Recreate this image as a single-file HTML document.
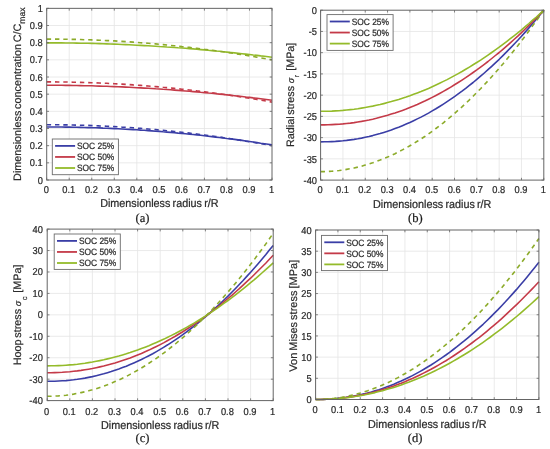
<!DOCTYPE html>
<html><head><meta charset="utf-8"><title>Figure</title>
<style>
html,body{margin:0;padding:0;background:#fff;}
svg{display:block;font-family:"Liberation Sans",sans-serif;text-rendering:geometricPrecision;}
</style></head><body>
<svg width="550" height="449" viewBox="0 0 550 449">
<rect width="550" height="449" fill="#ffffff"/>
<g><line x1="69.23" y1="8.35" x2="69.23" y2="180.00" stroke="#e5e5e5" stroke-width="0.8"/>
<line x1="91.76" y1="8.35" x2="91.76" y2="180.00" stroke="#e5e5e5" stroke-width="0.8"/>
<line x1="114.29" y1="8.35" x2="114.29" y2="180.00" stroke="#e5e5e5" stroke-width="0.8"/>
<line x1="136.82" y1="8.35" x2="136.82" y2="180.00" stroke="#e5e5e5" stroke-width="0.8"/>
<line x1="159.35" y1="8.35" x2="159.35" y2="180.00" stroke="#e5e5e5" stroke-width="0.8"/>
<line x1="181.88" y1="8.35" x2="181.88" y2="180.00" stroke="#e5e5e5" stroke-width="0.8"/>
<line x1="204.41" y1="8.35" x2="204.41" y2="180.00" stroke="#e5e5e5" stroke-width="0.8"/>
<line x1="226.94" y1="8.35" x2="226.94" y2="180.00" stroke="#e5e5e5" stroke-width="0.8"/>
<line x1="249.47" y1="8.35" x2="249.47" y2="180.00" stroke="#e5e5e5" stroke-width="0.8"/>
<line x1="46.70" y1="162.84" x2="272.00" y2="162.84" stroke="#e5e5e5" stroke-width="0.8"/>
<line x1="46.70" y1="145.67" x2="272.00" y2="145.67" stroke="#e5e5e5" stroke-width="0.8"/>
<line x1="46.70" y1="128.50" x2="272.00" y2="128.50" stroke="#e5e5e5" stroke-width="0.8"/>
<line x1="46.70" y1="111.34" x2="272.00" y2="111.34" stroke="#e5e5e5" stroke-width="0.8"/>
<line x1="46.70" y1="94.17" x2="272.00" y2="94.17" stroke="#e5e5e5" stroke-width="0.8"/>
<line x1="46.70" y1="77.01" x2="272.00" y2="77.01" stroke="#e5e5e5" stroke-width="0.8"/>
<line x1="46.70" y1="59.84" x2="272.00" y2="59.84" stroke="#e5e5e5" stroke-width="0.8"/>
<line x1="46.70" y1="42.68" x2="272.00" y2="42.68" stroke="#e5e5e5" stroke-width="0.8"/>
<line x1="46.70" y1="25.51" x2="272.00" y2="25.51" stroke="#e5e5e5" stroke-width="0.8"/>
<polyline points="46.7,127.0 50.5,127.0 54.2,127.0 58.0,127.0 61.7,127.0 65.5,127.1 69.2,127.1 73.0,127.2 76.7,127.3 80.5,127.4 84.2,127.5 88.0,127.6 91.8,127.7 95.5,127.8 99.3,127.9 103.0,128.1 106.8,128.2 110.5,128.4 114.3,128.6 118.0,128.8 121.8,129.0 125.6,129.2 129.3,129.4 133.1,129.6 136.8,129.8 140.6,130.1 144.3,130.3 148.1,130.6 151.8,130.9 155.6,131.2 159.4,131.4 163.1,131.8 166.9,132.1 170.6,132.4 174.4,132.7 178.1,133.1 181.9,133.4 185.6,133.8 189.4,134.2 193.1,134.5 196.9,134.9 200.7,135.3 204.4,135.8 208.2,136.2 211.9,136.6 215.7,137.1 219.4,137.5 223.2,138.0 226.9,138.5 230.7,138.9 234.5,139.4 238.2,139.9 242.0,140.4 245.7,141.0 249.5,141.5 253.2,142.0 257.0,142.6 260.7,143.2 264.5,143.7 268.2,144.3 272.0,144.9" fill="none" stroke="#3a3ea6" stroke-width="1.6" stroke-linejoin="round"/>
<polyline points="46.7,124.7 50.5,124.7 54.2,124.8 58.0,124.8 61.7,124.8 65.5,124.9 69.2,124.9 73.0,125.0 76.7,125.1 80.5,125.2 84.2,125.3 88.0,125.4 91.8,125.6 95.5,125.7 99.3,125.9 103.0,126.0 106.8,126.2 110.5,126.4 114.3,126.6 118.0,126.8 121.8,127.1 125.6,127.3 129.3,127.5 133.1,127.8 136.8,128.1 140.6,128.4 144.3,128.7 148.1,129.0 151.8,129.3 155.6,129.6 159.4,130.0 163.1,130.3 166.9,130.7 170.6,131.1 174.4,131.5 178.1,131.9 181.9,132.3 185.6,132.7 189.4,133.1 193.1,133.6 196.9,134.0 200.7,134.5 204.4,135.0 208.2,135.5 211.9,136.0 215.7,136.5 219.4,137.0 223.2,137.6 226.9,138.1 230.7,138.7 234.5,139.3 238.2,139.9 242.0,140.5 245.7,141.1 249.5,141.7 253.2,142.3 257.0,143.0 260.7,143.6 264.5,144.3 268.2,145.0 272.0,145.7" fill="none" stroke="#3a3ea6" stroke-width="1.6" stroke-dasharray="4.4 3.9" stroke-linejoin="round"/>
<polyline points="46.7,85.2 50.5,85.3 54.2,85.3 58.0,85.3 61.7,85.3 65.5,85.4 69.2,85.4 73.0,85.5 76.7,85.5 80.5,85.6 84.2,85.7 88.0,85.8 91.8,85.8 95.5,86.0 99.3,86.1 103.0,86.2 106.8,86.3 110.5,86.5 114.3,86.6 118.0,86.8 121.8,86.9 125.6,87.1 129.3,87.3 133.1,87.5 136.8,87.7 140.6,87.9 144.3,88.1 148.1,88.3 151.8,88.5 155.6,88.8 159.4,89.0 163.1,89.3 166.9,89.5 170.6,89.8 174.4,90.1 178.1,90.4 181.9,90.7 185.6,91.0 189.4,91.3 193.1,91.6 196.9,91.9 200.7,92.3 204.4,92.6 208.2,93.0 211.9,93.3 215.7,93.7 219.4,94.1 223.2,94.5 226.9,94.9 230.7,95.3 234.5,95.7 238.2,96.1 242.0,96.5 245.7,97.0 249.5,97.4 253.2,97.9 257.0,98.3 260.7,98.8 264.5,99.3 268.2,99.8 272.0,100.3" fill="none" stroke="#c43a48" stroke-width="1.6" stroke-linejoin="round"/>
<polyline points="46.7,81.9 50.5,81.9 54.2,81.9 58.0,82.0 61.7,82.0 65.5,82.0 69.2,82.1 73.0,82.2 76.7,82.3 80.5,82.4 84.2,82.5 88.0,82.6 91.8,82.7 95.5,82.8 99.3,83.0 103.0,83.2 106.8,83.3 110.5,83.5 114.3,83.7 118.0,83.9 121.8,84.1 125.6,84.4 129.3,84.6 133.1,84.9 136.8,85.1 140.6,85.4 144.3,85.7 148.1,86.0 151.8,86.3 155.6,86.6 159.4,86.9 163.1,87.3 166.9,87.6 170.6,88.0 174.4,88.4 178.1,88.8 181.9,89.2 185.6,89.6 189.4,90.0 193.1,90.4 196.9,90.9 200.7,91.3 204.4,91.8 208.2,92.3 211.9,92.7 215.7,93.2 219.4,93.8 223.2,94.3 226.9,94.8 230.7,95.4 234.5,95.9 238.2,96.5 242.0,97.1 245.7,97.6 249.5,98.2 253.2,98.8 257.0,99.5 260.7,100.1 264.5,100.7 268.2,101.4 272.0,102.1" fill="none" stroke="#c43a48" stroke-width="1.6" stroke-dasharray="4.4 3.9" stroke-linejoin="round"/>
<polyline points="46.7,42.9 50.5,42.9 54.2,42.9 58.0,42.9 61.7,42.9 65.5,43.0 69.2,43.0 73.0,43.0 76.7,43.1 80.5,43.2 84.2,43.3 88.0,43.3 91.8,43.4 95.5,43.5 99.3,43.6 103.0,43.8 106.8,43.9 110.5,44.0 114.3,44.1 118.0,44.3 121.8,44.5 125.6,44.6 129.3,44.8 133.1,45.0 136.8,45.2 140.6,45.4 144.3,45.6 148.1,45.8 151.8,46.0 155.6,46.2 159.4,46.5 163.1,46.7 166.9,47.0 170.6,47.2 174.4,47.5 178.1,47.8 181.9,48.0 185.6,48.3 189.4,48.6 193.1,48.9 196.9,49.3 200.7,49.6 204.4,49.9 208.2,50.3 211.9,50.6 215.7,51.0 219.4,51.3 223.2,51.7 226.9,52.1 230.7,52.5 234.5,52.9 238.2,53.3 242.0,53.7 245.7,54.1 249.5,54.5 253.2,55.0 257.0,55.4 260.7,55.9 264.5,56.3 268.2,56.8 272.0,57.3" fill="none" stroke="#94bb2a" stroke-width="1.6" stroke-linejoin="round"/>
<polyline points="46.7,39.1 50.5,39.1 54.2,39.1 58.0,39.1 61.7,39.2 65.5,39.2 69.2,39.3 73.0,39.4 76.7,39.4 80.5,39.5 84.2,39.7 88.0,39.8 91.8,39.9 95.5,40.1 99.3,40.2 103.0,40.4 106.8,40.6 110.5,40.7 114.3,40.9 118.0,41.2 121.8,41.4 125.6,41.6 129.3,41.9 133.1,42.1 136.8,42.4 140.6,42.7 144.3,43.0 148.1,43.3 151.8,43.6 155.6,43.9 159.4,44.3 163.1,44.6 166.9,45.0 170.6,45.4 174.4,45.7 178.1,46.1 181.9,46.6 185.6,47.0 189.4,47.4 193.1,47.9 196.9,48.3 200.7,48.8 204.4,49.3 208.2,49.7 211.9,50.2 215.7,50.8 219.4,51.3 223.2,51.8 226.9,52.4 230.7,52.9 234.5,53.5 238.2,54.1 242.0,54.7 245.7,55.3 249.5,55.9 253.2,56.5 257.0,57.2 260.7,57.8 264.5,58.5 268.2,59.2 272.0,59.8" fill="none" stroke="#8cab2a" stroke-width="1.6" stroke-dasharray="4.4 3.9" stroke-linejoin="round"/>
<line x1="46.70" y1="180.00" x2="46.70" y2="177.70" stroke="#646464" stroke-width="0.8"/>
<line x1="46.70" y1="8.35" x2="46.70" y2="10.65" stroke="#646464" stroke-width="0.8"/>
<text transform="translate(46.30,193.10) scale(1,1.08)" font-size="9.3" text-anchor="middle" fill="#2b2b2b" stroke="#2b2b2b" stroke-width="0.22">0</text>
<line x1="69.23" y1="180.00" x2="69.23" y2="177.70" stroke="#646464" stroke-width="0.8"/>
<line x1="69.23" y1="8.35" x2="69.23" y2="10.65" stroke="#646464" stroke-width="0.8"/>
<text transform="translate(68.83,193.10) scale(1,1.08)" font-size="9.3" text-anchor="middle" fill="#2b2b2b" stroke="#2b2b2b" stroke-width="0.22">0.1</text>
<line x1="91.76" y1="180.00" x2="91.76" y2="177.70" stroke="#646464" stroke-width="0.8"/>
<line x1="91.76" y1="8.35" x2="91.76" y2="10.65" stroke="#646464" stroke-width="0.8"/>
<text transform="translate(91.36,193.10) scale(1,1.08)" font-size="9.3" text-anchor="middle" fill="#2b2b2b" stroke="#2b2b2b" stroke-width="0.22">0.2</text>
<line x1="114.29" y1="180.00" x2="114.29" y2="177.70" stroke="#646464" stroke-width="0.8"/>
<line x1="114.29" y1="8.35" x2="114.29" y2="10.65" stroke="#646464" stroke-width="0.8"/>
<text transform="translate(113.89,193.10) scale(1,1.08)" font-size="9.3" text-anchor="middle" fill="#2b2b2b" stroke="#2b2b2b" stroke-width="0.22">0.3</text>
<line x1="136.82" y1="180.00" x2="136.82" y2="177.70" stroke="#646464" stroke-width="0.8"/>
<line x1="136.82" y1="8.35" x2="136.82" y2="10.65" stroke="#646464" stroke-width="0.8"/>
<text transform="translate(136.42,193.10) scale(1,1.08)" font-size="9.3" text-anchor="middle" fill="#2b2b2b" stroke="#2b2b2b" stroke-width="0.22">0.4</text>
<line x1="159.35" y1="180.00" x2="159.35" y2="177.70" stroke="#646464" stroke-width="0.8"/>
<line x1="159.35" y1="8.35" x2="159.35" y2="10.65" stroke="#646464" stroke-width="0.8"/>
<text transform="translate(158.95,193.10) scale(1,1.08)" font-size="9.3" text-anchor="middle" fill="#2b2b2b" stroke="#2b2b2b" stroke-width="0.22">0.5</text>
<line x1="181.88" y1="180.00" x2="181.88" y2="177.70" stroke="#646464" stroke-width="0.8"/>
<line x1="181.88" y1="8.35" x2="181.88" y2="10.65" stroke="#646464" stroke-width="0.8"/>
<text transform="translate(181.48,193.10) scale(1,1.08)" font-size="9.3" text-anchor="middle" fill="#2b2b2b" stroke="#2b2b2b" stroke-width="0.22">0.6</text>
<line x1="204.41" y1="180.00" x2="204.41" y2="177.70" stroke="#646464" stroke-width="0.8"/>
<line x1="204.41" y1="8.35" x2="204.41" y2="10.65" stroke="#646464" stroke-width="0.8"/>
<text transform="translate(204.01,193.10) scale(1,1.08)" font-size="9.3" text-anchor="middle" fill="#2b2b2b" stroke="#2b2b2b" stroke-width="0.22">0.7</text>
<line x1="226.94" y1="180.00" x2="226.94" y2="177.70" stroke="#646464" stroke-width="0.8"/>
<line x1="226.94" y1="8.35" x2="226.94" y2="10.65" stroke="#646464" stroke-width="0.8"/>
<text transform="translate(226.54,193.10) scale(1,1.08)" font-size="9.3" text-anchor="middle" fill="#2b2b2b" stroke="#2b2b2b" stroke-width="0.22">0.8</text>
<line x1="249.47" y1="180.00" x2="249.47" y2="177.70" stroke="#646464" stroke-width="0.8"/>
<line x1="249.47" y1="8.35" x2="249.47" y2="10.65" stroke="#646464" stroke-width="0.8"/>
<text transform="translate(249.07,193.10) scale(1,1.08)" font-size="9.3" text-anchor="middle" fill="#2b2b2b" stroke="#2b2b2b" stroke-width="0.22">0.9</text>
<line x1="272.00" y1="180.00" x2="272.00" y2="177.70" stroke="#646464" stroke-width="0.8"/>
<line x1="272.00" y1="8.35" x2="272.00" y2="10.65" stroke="#646464" stroke-width="0.8"/>
<text transform="translate(271.60,193.10) scale(1,1.08)" font-size="9.3" text-anchor="middle" fill="#2b2b2b" stroke="#2b2b2b" stroke-width="0.22">1</text>
<line x1="46.70" y1="180.00" x2="49.00" y2="180.00" stroke="#646464" stroke-width="0.8"/>
<line x1="272.00" y1="180.00" x2="269.70" y2="180.00" stroke="#646464" stroke-width="0.8"/>
<text transform="translate(42.80,183.55) scale(1,1.08)" font-size="9.3" text-anchor="end" fill="#2b2b2b" stroke="#2b2b2b" stroke-width="0.22">0</text>
<line x1="46.70" y1="162.84" x2="49.00" y2="162.84" stroke="#646464" stroke-width="0.8"/>
<line x1="272.00" y1="162.84" x2="269.70" y2="162.84" stroke="#646464" stroke-width="0.8"/>
<text transform="translate(42.80,166.39) scale(1,1.08)" font-size="9.3" text-anchor="end" fill="#2b2b2b" stroke="#2b2b2b" stroke-width="0.22">0.1</text>
<line x1="46.70" y1="145.67" x2="49.00" y2="145.67" stroke="#646464" stroke-width="0.8"/>
<line x1="272.00" y1="145.67" x2="269.70" y2="145.67" stroke="#646464" stroke-width="0.8"/>
<text transform="translate(42.80,149.22) scale(1,1.08)" font-size="9.3" text-anchor="end" fill="#2b2b2b" stroke="#2b2b2b" stroke-width="0.22">0.2</text>
<line x1="46.70" y1="128.50" x2="49.00" y2="128.50" stroke="#646464" stroke-width="0.8"/>
<line x1="272.00" y1="128.50" x2="269.70" y2="128.50" stroke="#646464" stroke-width="0.8"/>
<text transform="translate(42.80,132.06) scale(1,1.08)" font-size="9.3" text-anchor="end" fill="#2b2b2b" stroke="#2b2b2b" stroke-width="0.22">0.3</text>
<line x1="46.70" y1="111.34" x2="49.00" y2="111.34" stroke="#646464" stroke-width="0.8"/>
<line x1="272.00" y1="111.34" x2="269.70" y2="111.34" stroke="#646464" stroke-width="0.8"/>
<text transform="translate(42.80,114.89) scale(1,1.08)" font-size="9.3" text-anchor="end" fill="#2b2b2b" stroke="#2b2b2b" stroke-width="0.22">0.4</text>
<line x1="46.70" y1="94.17" x2="49.00" y2="94.17" stroke="#646464" stroke-width="0.8"/>
<line x1="272.00" y1="94.17" x2="269.70" y2="94.17" stroke="#646464" stroke-width="0.8"/>
<text transform="translate(42.80,97.72) scale(1,1.08)" font-size="9.3" text-anchor="end" fill="#2b2b2b" stroke="#2b2b2b" stroke-width="0.22">0.5</text>
<line x1="46.70" y1="77.01" x2="49.00" y2="77.01" stroke="#646464" stroke-width="0.8"/>
<line x1="272.00" y1="77.01" x2="269.70" y2="77.01" stroke="#646464" stroke-width="0.8"/>
<text transform="translate(42.80,80.56) scale(1,1.08)" font-size="9.3" text-anchor="end" fill="#2b2b2b" stroke="#2b2b2b" stroke-width="0.22">0.6</text>
<line x1="46.70" y1="59.84" x2="49.00" y2="59.84" stroke="#646464" stroke-width="0.8"/>
<line x1="272.00" y1="59.84" x2="269.70" y2="59.84" stroke="#646464" stroke-width="0.8"/>
<text transform="translate(42.80,63.39) scale(1,1.08)" font-size="9.3" text-anchor="end" fill="#2b2b2b" stroke="#2b2b2b" stroke-width="0.22">0.7</text>
<line x1="46.70" y1="42.68" x2="49.00" y2="42.68" stroke="#646464" stroke-width="0.8"/>
<line x1="272.00" y1="42.68" x2="269.70" y2="42.68" stroke="#646464" stroke-width="0.8"/>
<text transform="translate(42.80,46.23) scale(1,1.08)" font-size="9.3" text-anchor="end" fill="#2b2b2b" stroke="#2b2b2b" stroke-width="0.22">0.8</text>
<line x1="46.70" y1="25.51" x2="49.00" y2="25.51" stroke="#646464" stroke-width="0.8"/>
<line x1="272.00" y1="25.51" x2="269.70" y2="25.51" stroke="#646464" stroke-width="0.8"/>
<text transform="translate(42.80,29.06) scale(1,1.08)" font-size="9.3" text-anchor="end" fill="#2b2b2b" stroke="#2b2b2b" stroke-width="0.22">0.9</text>
<line x1="46.70" y1="8.35" x2="49.00" y2="8.35" stroke="#646464" stroke-width="0.8"/>
<line x1="272.00" y1="8.35" x2="269.70" y2="8.35" stroke="#646464" stroke-width="0.8"/>
<text transform="translate(42.80,11.90) scale(1,1.08)" font-size="9.3" text-anchor="end" fill="#2b2b2b" stroke="#2b2b2b" stroke-width="0.22">1</text>
<rect x="46.70" y="8.35" width="225.30" height="171.65" fill="none" stroke="#646464" stroke-width="1"/>
<rect x="52.30" y="139.00" width="66.10" height="35.70" fill="#fff" stroke="#6c6c6c" stroke-width="0.9"/>
<line x1="55.10" y1="145.90" x2="75.10" y2="145.90" stroke="#3a3ea6" stroke-width="1.8"/>
<text transform="translate(77.00,149.10) scale(1,1.09)" font-size="8.4" text-anchor="start" fill="#2b2b2b" stroke="#2b2b2b" stroke-width="0.22">SOC 25%</text>
<line x1="55.10" y1="156.95" x2="75.10" y2="156.95" stroke="#c43a48" stroke-width="1.8"/>
<text transform="translate(77.00,160.15) scale(1,1.09)" font-size="8.4" text-anchor="start" fill="#2b2b2b" stroke="#2b2b2b" stroke-width="0.22">SOC 50%</text>
<line x1="55.10" y1="168.00" x2="75.10" y2="168.00" stroke="#94bb2a" stroke-width="1.8"/>
<text transform="translate(77.00,171.20) scale(1,1.09)" font-size="8.4" text-anchor="start" fill="#2b2b2b" stroke="#2b2b2b" stroke-width="0.22">SOC 75%</text>
<text transform="translate(159.35,207.40) scale(1,1.06)" font-size="10.8" text-anchor="middle" fill="#2b2b2b" stroke="#2b2b2b" stroke-width="0.22" word-spacing="-0.8">Dimensionless radius r/R</text>
<text transform="translate(20.90,94.17) rotate(-90)" font-size="10.8" word-spacing="-1.2" text-anchor="middle" fill="#2b2b2b" stroke="#2b2b2b" stroke-width="0.2">Dimensionless concentration C/C<tspan font-size="8.6" dy="3.9">max</tspan></text>
<text x="142.50" y="221.70" font-size="12.6" text-anchor="middle" fill="#1c1c1c" stroke="#1c1c1c" stroke-width="0.2" font-family="'Liberation Serif', serif">(a)</text></g>
<g><line x1="342.92" y1="10.20" x2="342.92" y2="180.10" stroke="#e5e5e5" stroke-width="0.8"/>
<line x1="365.24" y1="10.20" x2="365.24" y2="180.10" stroke="#e5e5e5" stroke-width="0.8"/>
<line x1="387.56" y1="10.20" x2="387.56" y2="180.10" stroke="#e5e5e5" stroke-width="0.8"/>
<line x1="409.88" y1="10.20" x2="409.88" y2="180.10" stroke="#e5e5e5" stroke-width="0.8"/>
<line x1="432.20" y1="10.20" x2="432.20" y2="180.10" stroke="#e5e5e5" stroke-width="0.8"/>
<line x1="454.52" y1="10.20" x2="454.52" y2="180.10" stroke="#e5e5e5" stroke-width="0.8"/>
<line x1="476.84" y1="10.20" x2="476.84" y2="180.10" stroke="#e5e5e5" stroke-width="0.8"/>
<line x1="499.16" y1="10.20" x2="499.16" y2="180.10" stroke="#e5e5e5" stroke-width="0.8"/>
<line x1="521.48" y1="10.20" x2="521.48" y2="180.10" stroke="#e5e5e5" stroke-width="0.8"/>
<line x1="320.60" y1="158.86" x2="543.80" y2="158.86" stroke="#e5e5e5" stroke-width="0.8"/>
<line x1="320.60" y1="137.62" x2="543.80" y2="137.62" stroke="#e5e5e5" stroke-width="0.8"/>
<line x1="320.60" y1="116.39" x2="543.80" y2="116.39" stroke="#e5e5e5" stroke-width="0.8"/>
<line x1="320.60" y1="95.15" x2="543.80" y2="95.15" stroke="#e5e5e5" stroke-width="0.8"/>
<line x1="320.60" y1="73.91" x2="543.80" y2="73.91" stroke="#e5e5e5" stroke-width="0.8"/>
<line x1="320.60" y1="52.67" x2="543.80" y2="52.67" stroke="#e5e5e5" stroke-width="0.8"/>
<line x1="320.60" y1="31.44" x2="543.80" y2="31.44" stroke="#e5e5e5" stroke-width="0.8"/>
<polyline points="320.6,141.9 324.3,141.8 328.0,141.8 331.8,141.6 335.5,141.4 339.2,141.1 342.9,140.8 346.6,140.4 350.4,139.9 354.1,139.4 357.8,138.8 361.5,138.1 365.2,137.3 369.0,136.5 372.7,135.6 376.4,134.6 380.1,133.6 383.8,132.4 387.6,131.2 391.3,130.0 395.0,128.6 398.7,127.2 402.4,125.7 406.2,124.1 409.9,122.5 413.6,120.7 417.3,118.9 421.0,117.1 424.8,115.1 428.5,113.1 432.2,110.9 435.9,108.8 439.6,106.5 443.4,104.1 447.1,101.7 450.8,99.2 454.5,96.6 458.2,93.9 462.0,91.2 465.7,88.4 469.4,85.4 473.1,82.5 476.8,79.4 480.6,76.2 484.3,73.0 488.0,69.7 491.7,66.3 495.4,62.8 499.2,59.3 502.9,55.6 506.6,51.9 510.3,48.1 514.0,44.2 517.8,40.3 521.5,36.2 525.2,32.1 528.9,27.9 532.6,23.6 536.4,19.2 540.1,14.7 543.8,10.2" fill="none" stroke="#3a3ea6" stroke-width="1.6" stroke-linejoin="round"/>
<polyline points="320.6,124.9 324.3,124.9 328.0,124.8 331.8,124.6 335.5,124.4 339.2,124.2 342.9,123.9 346.6,123.5 350.4,123.1 354.1,122.6 357.8,122.0 361.5,121.4 365.2,120.7 369.0,120.0 372.7,119.2 376.4,118.3 380.1,117.3 383.8,116.3 387.6,115.3 391.3,114.1 395.0,113.0 398.7,111.7 402.4,110.4 406.2,109.0 409.9,107.5 413.6,106.0 417.3,104.4 421.0,102.7 424.8,101.0 428.5,99.2 432.2,97.4 435.9,95.5 439.6,93.5 443.4,91.4 447.1,89.3 450.8,87.1 454.5,84.8 458.2,82.5 462.0,80.1 465.7,77.7 469.4,75.1 473.1,72.5 476.8,69.9 480.6,67.1 484.3,64.3 488.0,61.5 491.7,58.5 495.4,55.5 499.2,52.5 502.9,49.3 506.6,46.1 510.3,42.8 514.0,39.5 517.8,36.1 521.5,32.6 525.2,29.0 528.9,25.4 532.6,21.7 536.4,17.9 540.1,14.1 543.8,10.2" fill="none" stroke="#c43a48" stroke-width="1.6" stroke-linejoin="round"/>
<polyline points="320.6,111.3 324.3,111.3 328.0,111.2 331.8,111.1 335.5,110.9 339.2,110.7 342.9,110.4 346.6,110.0 350.4,109.6 354.1,109.2 357.8,108.7 361.5,108.1 365.2,107.5 369.0,106.8 372.7,106.1 376.4,105.3 380.1,104.5 383.8,103.6 387.6,102.6 391.3,101.6 395.0,100.5 398.7,99.4 402.4,98.2 406.2,97.0 409.9,95.7 413.6,94.3 417.3,92.9 421.0,91.5 424.8,89.9 428.5,88.4 432.2,86.7 435.9,85.0 439.6,83.2 443.4,81.4 447.1,79.6 450.8,77.6 454.5,75.6 458.2,73.6 462.0,71.5 465.7,69.3 469.4,67.1 473.1,64.8 476.8,62.5 480.6,60.1 484.3,57.6 488.0,55.1 491.7,52.5 495.4,49.9 499.2,47.2 502.9,44.4 506.6,41.6 510.3,38.7 514.0,35.8 517.8,32.8 521.5,29.8 525.2,26.6 528.9,23.5 532.6,20.2 536.4,17.0 540.1,13.6 543.8,10.2" fill="none" stroke="#94bb2a" stroke-width="1.6" stroke-linejoin="round"/>
<polyline points="320.6,171.6 324.3,171.6 328.0,171.4 331.8,171.2 335.5,170.9 339.2,170.5 342.9,170.0 346.6,169.4 350.4,168.7 354.1,168.0 357.8,167.1 361.5,166.2 365.2,165.1 369.0,164.0 372.7,162.8 376.4,161.5 380.1,160.1 383.8,158.6 387.6,157.1 391.3,155.4 395.0,153.7 398.7,151.8 402.4,149.9 406.2,147.9 409.9,145.8 413.6,143.6 417.3,141.3 421.0,138.9 424.8,136.5 428.5,133.9 432.2,131.3 435.9,128.5 439.6,125.7 443.4,122.8 447.1,119.8 450.8,116.7 454.5,113.5 458.2,110.2 462.0,106.9 465.7,103.4 469.4,99.9 473.1,96.2 476.8,92.5 480.6,88.7 484.3,84.8 488.0,80.8 491.7,76.7 495.4,72.6 499.2,68.3 502.9,64.0 506.6,59.5 510.3,55.0 514.0,50.4 517.8,45.7 521.5,40.9 525.2,36.0 528.9,31.0 532.6,25.9 536.4,20.8 540.1,15.5 543.8,10.2" fill="none" stroke="#8cab2a" stroke-width="1.6" stroke-dasharray="4.4 3.9" stroke-linejoin="round"/>
<line x1="320.60" y1="180.10" x2="320.60" y2="177.80" stroke="#646464" stroke-width="0.8"/>
<line x1="320.60" y1="10.20" x2="320.60" y2="12.50" stroke="#646464" stroke-width="0.8"/>
<text transform="translate(320.20,193.20) scale(1,1.08)" font-size="9.3" text-anchor="middle" fill="#2b2b2b" stroke="#2b2b2b" stroke-width="0.22">0</text>
<line x1="342.92" y1="180.10" x2="342.92" y2="177.80" stroke="#646464" stroke-width="0.8"/>
<line x1="342.92" y1="10.20" x2="342.92" y2="12.50" stroke="#646464" stroke-width="0.8"/>
<text transform="translate(342.52,193.20) scale(1,1.08)" font-size="9.3" text-anchor="middle" fill="#2b2b2b" stroke="#2b2b2b" stroke-width="0.22">0.1</text>
<line x1="365.24" y1="180.10" x2="365.24" y2="177.80" stroke="#646464" stroke-width="0.8"/>
<line x1="365.24" y1="10.20" x2="365.24" y2="12.50" stroke="#646464" stroke-width="0.8"/>
<text transform="translate(364.84,193.20) scale(1,1.08)" font-size="9.3" text-anchor="middle" fill="#2b2b2b" stroke="#2b2b2b" stroke-width="0.22">0.2</text>
<line x1="387.56" y1="180.10" x2="387.56" y2="177.80" stroke="#646464" stroke-width="0.8"/>
<line x1="387.56" y1="10.20" x2="387.56" y2="12.50" stroke="#646464" stroke-width="0.8"/>
<text transform="translate(387.16,193.20) scale(1,1.08)" font-size="9.3" text-anchor="middle" fill="#2b2b2b" stroke="#2b2b2b" stroke-width="0.22">0.3</text>
<line x1="409.88" y1="180.10" x2="409.88" y2="177.80" stroke="#646464" stroke-width="0.8"/>
<line x1="409.88" y1="10.20" x2="409.88" y2="12.50" stroke="#646464" stroke-width="0.8"/>
<text transform="translate(409.48,193.20) scale(1,1.08)" font-size="9.3" text-anchor="middle" fill="#2b2b2b" stroke="#2b2b2b" stroke-width="0.22">0.4</text>
<line x1="432.20" y1="180.10" x2="432.20" y2="177.80" stroke="#646464" stroke-width="0.8"/>
<line x1="432.20" y1="10.20" x2="432.20" y2="12.50" stroke="#646464" stroke-width="0.8"/>
<text transform="translate(431.80,193.20) scale(1,1.08)" font-size="9.3" text-anchor="middle" fill="#2b2b2b" stroke="#2b2b2b" stroke-width="0.22">0.5</text>
<line x1="454.52" y1="180.10" x2="454.52" y2="177.80" stroke="#646464" stroke-width="0.8"/>
<line x1="454.52" y1="10.20" x2="454.52" y2="12.50" stroke="#646464" stroke-width="0.8"/>
<text transform="translate(454.12,193.20) scale(1,1.08)" font-size="9.3" text-anchor="middle" fill="#2b2b2b" stroke="#2b2b2b" stroke-width="0.22">0.6</text>
<line x1="476.84" y1="180.10" x2="476.84" y2="177.80" stroke="#646464" stroke-width="0.8"/>
<line x1="476.84" y1="10.20" x2="476.84" y2="12.50" stroke="#646464" stroke-width="0.8"/>
<text transform="translate(476.44,193.20) scale(1,1.08)" font-size="9.3" text-anchor="middle" fill="#2b2b2b" stroke="#2b2b2b" stroke-width="0.22">0.7</text>
<line x1="499.16" y1="180.10" x2="499.16" y2="177.80" stroke="#646464" stroke-width="0.8"/>
<line x1="499.16" y1="10.20" x2="499.16" y2="12.50" stroke="#646464" stroke-width="0.8"/>
<text transform="translate(498.76,193.20) scale(1,1.08)" font-size="9.3" text-anchor="middle" fill="#2b2b2b" stroke="#2b2b2b" stroke-width="0.22">0.8</text>
<line x1="521.48" y1="180.10" x2="521.48" y2="177.80" stroke="#646464" stroke-width="0.8"/>
<line x1="521.48" y1="10.20" x2="521.48" y2="12.50" stroke="#646464" stroke-width="0.8"/>
<text transform="translate(521.08,193.20) scale(1,1.08)" font-size="9.3" text-anchor="middle" fill="#2b2b2b" stroke="#2b2b2b" stroke-width="0.22">0.9</text>
<line x1="543.80" y1="180.10" x2="543.80" y2="177.80" stroke="#646464" stroke-width="0.8"/>
<line x1="543.80" y1="10.20" x2="543.80" y2="12.50" stroke="#646464" stroke-width="0.8"/>
<text transform="translate(543.40,193.20) scale(1,1.08)" font-size="9.3" text-anchor="middle" fill="#2b2b2b" stroke="#2b2b2b" stroke-width="0.22">1</text>
<line x1="320.60" y1="180.10" x2="322.90" y2="180.10" stroke="#646464" stroke-width="0.8"/>
<line x1="543.80" y1="180.10" x2="541.50" y2="180.10" stroke="#646464" stroke-width="0.8"/>
<text transform="translate(317.00,183.85) scale(1,1.08)" font-size="9.3" text-anchor="end" fill="#2b2b2b" stroke="#2b2b2b" stroke-width="0.22">-40</text>
<line x1="320.60" y1="158.86" x2="322.90" y2="158.86" stroke="#646464" stroke-width="0.8"/>
<line x1="543.80" y1="158.86" x2="541.50" y2="158.86" stroke="#646464" stroke-width="0.8"/>
<text transform="translate(317.00,162.61) scale(1,1.08)" font-size="9.3" text-anchor="end" fill="#2b2b2b" stroke="#2b2b2b" stroke-width="0.22">-35</text>
<line x1="320.60" y1="137.62" x2="322.90" y2="137.62" stroke="#646464" stroke-width="0.8"/>
<line x1="543.80" y1="137.62" x2="541.50" y2="137.62" stroke="#646464" stroke-width="0.8"/>
<text transform="translate(317.00,141.38) scale(1,1.08)" font-size="9.3" text-anchor="end" fill="#2b2b2b" stroke="#2b2b2b" stroke-width="0.22">-30</text>
<line x1="320.60" y1="116.39" x2="322.90" y2="116.39" stroke="#646464" stroke-width="0.8"/>
<line x1="543.80" y1="116.39" x2="541.50" y2="116.39" stroke="#646464" stroke-width="0.8"/>
<text transform="translate(317.00,120.14) scale(1,1.08)" font-size="9.3" text-anchor="end" fill="#2b2b2b" stroke="#2b2b2b" stroke-width="0.22">-25</text>
<line x1="320.60" y1="95.15" x2="322.90" y2="95.15" stroke="#646464" stroke-width="0.8"/>
<line x1="543.80" y1="95.15" x2="541.50" y2="95.15" stroke="#646464" stroke-width="0.8"/>
<text transform="translate(317.00,98.90) scale(1,1.08)" font-size="9.3" text-anchor="end" fill="#2b2b2b" stroke="#2b2b2b" stroke-width="0.22">-20</text>
<line x1="320.60" y1="73.91" x2="322.90" y2="73.91" stroke="#646464" stroke-width="0.8"/>
<line x1="543.80" y1="73.91" x2="541.50" y2="73.91" stroke="#646464" stroke-width="0.8"/>
<text transform="translate(317.00,77.66) scale(1,1.08)" font-size="9.3" text-anchor="end" fill="#2b2b2b" stroke="#2b2b2b" stroke-width="0.22">-15</text>
<line x1="320.60" y1="52.67" x2="322.90" y2="52.67" stroke="#646464" stroke-width="0.8"/>
<line x1="543.80" y1="52.67" x2="541.50" y2="52.67" stroke="#646464" stroke-width="0.8"/>
<text transform="translate(317.00,56.42) scale(1,1.08)" font-size="9.3" text-anchor="end" fill="#2b2b2b" stroke="#2b2b2b" stroke-width="0.22">-10</text>
<line x1="320.60" y1="31.44" x2="322.90" y2="31.44" stroke="#646464" stroke-width="0.8"/>
<line x1="543.80" y1="31.44" x2="541.50" y2="31.44" stroke="#646464" stroke-width="0.8"/>
<text transform="translate(317.00,35.19) scale(1,1.08)" font-size="9.3" text-anchor="end" fill="#2b2b2b" stroke="#2b2b2b" stroke-width="0.22">-5</text>
<line x1="320.60" y1="10.20" x2="322.90" y2="10.20" stroke="#646464" stroke-width="0.8"/>
<line x1="543.80" y1="10.20" x2="541.50" y2="10.20" stroke="#646464" stroke-width="0.8"/>
<text transform="translate(317.00,13.95) scale(1,1.08)" font-size="9.3" text-anchor="end" fill="#2b2b2b" stroke="#2b2b2b" stroke-width="0.22">0</text>
<rect x="320.60" y="10.20" width="223.20" height="169.90" fill="none" stroke="#646464" stroke-width="1"/>
<rect x="327.00" y="14.60" width="66.10" height="35.80" fill="#fff" stroke="#6c6c6c" stroke-width="0.9"/>
<line x1="329.80" y1="21.50" x2="349.80" y2="21.50" stroke="#3a3ea6" stroke-width="1.8"/>
<text transform="translate(351.70,24.70) scale(1,1.09)" font-size="8.4" text-anchor="start" fill="#2b2b2b" stroke="#2b2b2b" stroke-width="0.22">SOC 25%</text>
<line x1="329.80" y1="32.55" x2="349.80" y2="32.55" stroke="#c43a48" stroke-width="1.8"/>
<text transform="translate(351.70,35.75) scale(1,1.09)" font-size="8.4" text-anchor="start" fill="#2b2b2b" stroke="#2b2b2b" stroke-width="0.22">SOC 50%</text>
<line x1="329.80" y1="43.60" x2="349.80" y2="43.60" stroke="#94bb2a" stroke-width="1.8"/>
<text transform="translate(351.70,46.80) scale(1,1.09)" font-size="8.4" text-anchor="start" fill="#2b2b2b" stroke="#2b2b2b" stroke-width="0.22">SOC 75%</text>
<text transform="translate(432.20,207.60) scale(1,1.06)" font-size="10.8" text-anchor="middle" fill="#2b2b2b" stroke="#2b2b2b" stroke-width="0.22" word-spacing="-0.8">Dimensionless radius r/R</text>
<text transform="translate(294.20,94.85) rotate(-90)" font-size="10.8" word-spacing="-1.2" text-anchor="middle" fill="#2b2b2b" stroke="#2b2b2b" stroke-width="0.2">Radial stress<tspan font-style="italic" font-size="9" dx="2.6">σ</tspan><tspan font-size="7" dy="4.9" dx="0.6">r</tspan><tspan dy="-4.9" dx="2.2"> [MPa]</tspan></text>
<text x="415.30" y="221.90" font-size="12.6" text-anchor="middle" fill="#1c1c1c" stroke="#1c1c1c" stroke-width="0.2" font-family="'Liberation Serif', serif">(b)</text></g>
<g><line x1="69.80" y1="229.10" x2="69.80" y2="400.60" stroke="#e5e5e5" stroke-width="0.8"/>
<line x1="92.40" y1="229.10" x2="92.40" y2="400.60" stroke="#e5e5e5" stroke-width="0.8"/>
<line x1="115.00" y1="229.10" x2="115.00" y2="400.60" stroke="#e5e5e5" stroke-width="0.8"/>
<line x1="137.60" y1="229.10" x2="137.60" y2="400.60" stroke="#e5e5e5" stroke-width="0.8"/>
<line x1="160.20" y1="229.10" x2="160.20" y2="400.60" stroke="#e5e5e5" stroke-width="0.8"/>
<line x1="182.80" y1="229.10" x2="182.80" y2="400.60" stroke="#e5e5e5" stroke-width="0.8"/>
<line x1="205.40" y1="229.10" x2="205.40" y2="400.60" stroke="#e5e5e5" stroke-width="0.8"/>
<line x1="228.00" y1="229.10" x2="228.00" y2="400.60" stroke="#e5e5e5" stroke-width="0.8"/>
<line x1="250.60" y1="229.10" x2="250.60" y2="400.60" stroke="#e5e5e5" stroke-width="0.8"/>
<line x1="47.20" y1="379.16" x2="273.20" y2="379.16" stroke="#e5e5e5" stroke-width="0.8"/>
<line x1="47.20" y1="357.73" x2="273.20" y2="357.73" stroke="#e5e5e5" stroke-width="0.8"/>
<line x1="47.20" y1="336.29" x2="273.20" y2="336.29" stroke="#e5e5e5" stroke-width="0.8"/>
<line x1="47.20" y1="314.85" x2="273.20" y2="314.85" stroke="#e5e5e5" stroke-width="0.8"/>
<line x1="47.20" y1="293.41" x2="273.20" y2="293.41" stroke="#e5e5e5" stroke-width="0.8"/>
<line x1="47.20" y1="271.98" x2="273.20" y2="271.98" stroke="#e5e5e5" stroke-width="0.8"/>
<line x1="47.20" y1="250.54" x2="273.20" y2="250.54" stroke="#e5e5e5" stroke-width="0.8"/>
<polyline points="47.2,381.3 51.0,381.3 54.7,381.2 58.5,381.0 62.3,380.8 66.0,380.6 69.8,380.2 73.6,379.8 77.3,379.3 81.1,378.7 84.9,378.1 88.6,377.4 92.4,376.6 96.2,375.7 99.9,374.8 103.7,373.8 107.5,372.7 111.2,371.6 115.0,370.3 118.8,369.0 122.5,367.6 126.3,366.2 130.1,364.6 133.8,363.0 137.6,361.3 141.4,359.5 145.1,357.6 148.9,355.7 152.7,353.7 156.4,351.6 160.2,349.4 164.0,347.1 167.7,344.8 171.5,342.3 175.3,339.8 179.0,337.3 182.8,334.6 186.6,331.8 190.3,329.0 194.1,326.1 197.9,323.1 201.6,320.0 205.4,316.8 209.2,313.6 212.9,310.2 216.7,306.8 220.5,303.3 224.2,299.7 228.0,296.1 231.8,292.3 235.5,288.5 239.3,284.5 243.1,280.5 246.8,276.4 250.6,272.3 254.4,268.0 258.1,263.7 261.9,259.2 265.7,254.7 269.4,250.1 273.2,245.4" fill="none" stroke="#3a3ea6" stroke-width="1.6" stroke-linejoin="round"/>
<polyline points="47.2,372.7 51.0,372.7 54.7,372.6 58.5,372.5 62.3,372.3 66.0,372.0 69.8,371.7 73.6,371.3 77.3,370.9 81.1,370.4 84.9,369.8 88.6,369.2 92.4,368.5 96.2,367.7 99.9,366.9 103.7,366.0 107.5,365.0 111.2,364.0 115.0,362.9 118.8,361.7 122.5,360.5 126.3,359.2 130.1,357.9 133.8,356.4 137.6,354.9 141.4,353.4 145.1,351.7 148.9,350.1 152.7,348.3 156.4,346.5 160.2,344.6 164.0,342.6 167.7,340.5 171.5,338.4 175.3,336.3 179.0,334.0 182.8,331.7 186.6,329.3 190.3,326.9 194.1,324.4 197.9,321.8 201.6,319.1 205.4,316.4 209.2,313.6 212.9,310.7 216.7,307.8 220.5,304.8 224.2,301.7 228.0,298.5 231.8,295.3 235.5,292.0 239.3,288.7 243.1,285.2 246.8,281.7 250.6,278.2 254.4,274.5 258.1,270.8 261.9,267.0 265.7,263.2 269.4,259.2 273.2,255.2" fill="none" stroke="#c43a48" stroke-width="1.6" stroke-linejoin="round"/>
<polyline points="47.2,365.9 51.0,365.8 54.7,365.8 58.5,365.6 62.3,365.5 66.0,365.2 69.8,364.9 73.6,364.6 77.3,364.2 81.1,363.7 84.9,363.2 88.6,362.6 92.4,362.0 96.2,361.3 99.9,360.6 103.7,359.8 107.5,358.9 111.2,358.0 115.0,357.0 118.8,356.0 122.5,354.9 126.3,353.8 130.1,352.6 133.8,351.3 137.6,350.0 141.4,348.6 145.1,347.2 148.9,345.7 152.7,344.1 156.4,342.5 160.2,340.8 164.0,339.1 167.7,337.3 171.5,335.4 175.3,333.5 179.0,331.5 182.8,329.5 186.6,327.4 190.3,325.3 194.1,323.1 197.9,320.8 201.6,318.5 205.4,316.1 209.2,313.6 212.9,311.1 216.7,308.6 220.5,305.9 224.2,303.2 228.0,300.5 231.8,297.7 235.5,294.8 239.3,291.9 243.1,288.9 246.8,285.9 250.6,282.7 254.4,279.6 258.1,276.3 261.9,273.0 265.7,269.7 269.4,266.3 273.2,262.8" fill="none" stroke="#94bb2a" stroke-width="1.6" stroke-linejoin="round"/>
<polyline points="47.2,396.3 51.0,396.3 54.7,396.1 58.5,395.9 62.3,395.6 66.0,395.2 69.8,394.7 73.6,394.1 77.3,393.4 81.1,392.6 84.9,391.8 88.6,390.8 92.4,389.8 96.2,388.7 99.9,387.4 103.7,386.1 107.5,384.7 111.2,383.2 115.0,381.6 118.8,380.0 122.5,378.2 126.3,376.4 130.1,374.4 133.8,372.4 137.6,370.2 141.4,368.0 145.1,365.7 148.9,363.3 152.7,360.8 156.4,358.3 160.2,355.6 164.0,352.8 167.7,350.0 171.5,347.0 175.3,344.0 179.0,340.9 182.8,337.7 186.6,334.4 190.3,331.0 194.1,327.5 197.9,323.9 201.6,320.2 205.4,316.5 209.2,312.6 212.9,308.7 216.7,304.7 220.5,300.5 224.2,296.3 228.0,292.0 231.8,287.7 235.5,283.2 239.3,278.6 243.1,273.9 246.8,269.2 250.6,264.3 254.4,259.4 258.1,254.4 261.9,249.3 265.7,244.1 269.4,238.8 273.2,233.4" fill="none" stroke="#8cab2a" stroke-width="1.6" stroke-dasharray="4.4 3.9" stroke-linejoin="round"/>
<line x1="47.20" y1="400.60" x2="47.20" y2="398.30" stroke="#646464" stroke-width="0.8"/>
<line x1="47.20" y1="229.10" x2="47.20" y2="231.40" stroke="#646464" stroke-width="0.8"/>
<text transform="translate(46.60,414.50) scale(1,1.08)" font-size="9.3" text-anchor="middle" fill="#2b2b2b" stroke="#2b2b2b" stroke-width="0.22">0</text>
<line x1="69.80" y1="400.60" x2="69.80" y2="398.30" stroke="#646464" stroke-width="0.8"/>
<line x1="69.80" y1="229.10" x2="69.80" y2="231.40" stroke="#646464" stroke-width="0.8"/>
<text transform="translate(69.20,414.50) scale(1,1.08)" font-size="9.3" text-anchor="middle" fill="#2b2b2b" stroke="#2b2b2b" stroke-width="0.22">0.1</text>
<line x1="92.40" y1="400.60" x2="92.40" y2="398.30" stroke="#646464" stroke-width="0.8"/>
<line x1="92.40" y1="229.10" x2="92.40" y2="231.40" stroke="#646464" stroke-width="0.8"/>
<text transform="translate(91.80,414.50) scale(1,1.08)" font-size="9.3" text-anchor="middle" fill="#2b2b2b" stroke="#2b2b2b" stroke-width="0.22">0.2</text>
<line x1="115.00" y1="400.60" x2="115.00" y2="398.30" stroke="#646464" stroke-width="0.8"/>
<line x1="115.00" y1="229.10" x2="115.00" y2="231.40" stroke="#646464" stroke-width="0.8"/>
<text transform="translate(114.40,414.50) scale(1,1.08)" font-size="9.3" text-anchor="middle" fill="#2b2b2b" stroke="#2b2b2b" stroke-width="0.22">0.3</text>
<line x1="137.60" y1="400.60" x2="137.60" y2="398.30" stroke="#646464" stroke-width="0.8"/>
<line x1="137.60" y1="229.10" x2="137.60" y2="231.40" stroke="#646464" stroke-width="0.8"/>
<text transform="translate(137.00,414.50) scale(1,1.08)" font-size="9.3" text-anchor="middle" fill="#2b2b2b" stroke="#2b2b2b" stroke-width="0.22">0.4</text>
<line x1="160.20" y1="400.60" x2="160.20" y2="398.30" stroke="#646464" stroke-width="0.8"/>
<line x1="160.20" y1="229.10" x2="160.20" y2="231.40" stroke="#646464" stroke-width="0.8"/>
<text transform="translate(159.60,414.50) scale(1,1.08)" font-size="9.3" text-anchor="middle" fill="#2b2b2b" stroke="#2b2b2b" stroke-width="0.22">0.5</text>
<line x1="182.80" y1="400.60" x2="182.80" y2="398.30" stroke="#646464" stroke-width="0.8"/>
<line x1="182.80" y1="229.10" x2="182.80" y2="231.40" stroke="#646464" stroke-width="0.8"/>
<text transform="translate(182.20,414.50) scale(1,1.08)" font-size="9.3" text-anchor="middle" fill="#2b2b2b" stroke="#2b2b2b" stroke-width="0.22">0.6</text>
<line x1="205.40" y1="400.60" x2="205.40" y2="398.30" stroke="#646464" stroke-width="0.8"/>
<line x1="205.40" y1="229.10" x2="205.40" y2="231.40" stroke="#646464" stroke-width="0.8"/>
<text transform="translate(204.80,414.50) scale(1,1.08)" font-size="9.3" text-anchor="middle" fill="#2b2b2b" stroke="#2b2b2b" stroke-width="0.22">0.7</text>
<line x1="228.00" y1="400.60" x2="228.00" y2="398.30" stroke="#646464" stroke-width="0.8"/>
<line x1="228.00" y1="229.10" x2="228.00" y2="231.40" stroke="#646464" stroke-width="0.8"/>
<text transform="translate(227.40,414.50) scale(1,1.08)" font-size="9.3" text-anchor="middle" fill="#2b2b2b" stroke="#2b2b2b" stroke-width="0.22">0.8</text>
<line x1="250.60" y1="400.60" x2="250.60" y2="398.30" stroke="#646464" stroke-width="0.8"/>
<line x1="250.60" y1="229.10" x2="250.60" y2="231.40" stroke="#646464" stroke-width="0.8"/>
<text transform="translate(250.00,414.50) scale(1,1.08)" font-size="9.3" text-anchor="middle" fill="#2b2b2b" stroke="#2b2b2b" stroke-width="0.22">0.9</text>
<line x1="273.20" y1="400.60" x2="273.20" y2="398.30" stroke="#646464" stroke-width="0.8"/>
<line x1="273.20" y1="229.10" x2="273.20" y2="231.40" stroke="#646464" stroke-width="0.8"/>
<text transform="translate(272.60,414.50) scale(1,1.08)" font-size="9.3" text-anchor="middle" fill="#2b2b2b" stroke="#2b2b2b" stroke-width="0.22">1</text>
<line x1="47.20" y1="400.60" x2="49.50" y2="400.60" stroke="#646464" stroke-width="0.8"/>
<line x1="273.20" y1="400.60" x2="270.90" y2="400.60" stroke="#646464" stroke-width="0.8"/>
<text transform="translate(42.80,404.05) scale(1,1.08)" font-size="9.3" text-anchor="end" fill="#2b2b2b" stroke="#2b2b2b" stroke-width="0.22">-40</text>
<line x1="47.20" y1="379.16" x2="49.50" y2="379.16" stroke="#646464" stroke-width="0.8"/>
<line x1="273.20" y1="379.16" x2="270.90" y2="379.16" stroke="#646464" stroke-width="0.8"/>
<text transform="translate(42.80,382.61) scale(1,1.08)" font-size="9.3" text-anchor="end" fill="#2b2b2b" stroke="#2b2b2b" stroke-width="0.22">-30</text>
<line x1="47.20" y1="357.73" x2="49.50" y2="357.73" stroke="#646464" stroke-width="0.8"/>
<line x1="273.20" y1="357.73" x2="270.90" y2="357.73" stroke="#646464" stroke-width="0.8"/>
<text transform="translate(42.80,361.18) scale(1,1.08)" font-size="9.3" text-anchor="end" fill="#2b2b2b" stroke="#2b2b2b" stroke-width="0.22">-20</text>
<line x1="47.20" y1="336.29" x2="49.50" y2="336.29" stroke="#646464" stroke-width="0.8"/>
<line x1="273.20" y1="336.29" x2="270.90" y2="336.29" stroke="#646464" stroke-width="0.8"/>
<text transform="translate(42.80,339.74) scale(1,1.08)" font-size="9.3" text-anchor="end" fill="#2b2b2b" stroke="#2b2b2b" stroke-width="0.22">-10</text>
<line x1="47.20" y1="314.85" x2="49.50" y2="314.85" stroke="#646464" stroke-width="0.8"/>
<line x1="273.20" y1="314.85" x2="270.90" y2="314.85" stroke="#646464" stroke-width="0.8"/>
<text transform="translate(42.80,318.30) scale(1,1.08)" font-size="9.3" text-anchor="end" fill="#2b2b2b" stroke="#2b2b2b" stroke-width="0.22">0</text>
<line x1="47.20" y1="293.41" x2="49.50" y2="293.41" stroke="#646464" stroke-width="0.8"/>
<line x1="273.20" y1="293.41" x2="270.90" y2="293.41" stroke="#646464" stroke-width="0.8"/>
<text transform="translate(42.80,296.86) scale(1,1.08)" font-size="9.3" text-anchor="end" fill="#2b2b2b" stroke="#2b2b2b" stroke-width="0.22">10</text>
<line x1="47.20" y1="271.98" x2="49.50" y2="271.98" stroke="#646464" stroke-width="0.8"/>
<line x1="273.20" y1="271.98" x2="270.90" y2="271.98" stroke="#646464" stroke-width="0.8"/>
<text transform="translate(42.80,275.43) scale(1,1.08)" font-size="9.3" text-anchor="end" fill="#2b2b2b" stroke="#2b2b2b" stroke-width="0.22">20</text>
<line x1="47.20" y1="250.54" x2="49.50" y2="250.54" stroke="#646464" stroke-width="0.8"/>
<line x1="273.20" y1="250.54" x2="270.90" y2="250.54" stroke="#646464" stroke-width="0.8"/>
<text transform="translate(42.80,253.99) scale(1,1.08)" font-size="9.3" text-anchor="end" fill="#2b2b2b" stroke="#2b2b2b" stroke-width="0.22">30</text>
<line x1="47.20" y1="229.10" x2="49.50" y2="229.10" stroke="#646464" stroke-width="0.8"/>
<line x1="273.20" y1="229.10" x2="270.90" y2="229.10" stroke="#646464" stroke-width="0.8"/>
<text transform="translate(42.80,232.55) scale(1,1.08)" font-size="9.3" text-anchor="end" fill="#2b2b2b" stroke="#2b2b2b" stroke-width="0.22">40</text>
<rect x="47.20" y="229.10" width="226.00" height="171.50" fill="none" stroke="#646464" stroke-width="1"/>
<rect x="54.20" y="234.00" width="66.10" height="35.40" fill="#fff" stroke="#6c6c6c" stroke-width="0.9"/>
<line x1="57.00" y1="240.90" x2="77.00" y2="240.90" stroke="#3a3ea6" stroke-width="1.8"/>
<text transform="translate(78.90,244.10) scale(1,1.09)" font-size="8.4" text-anchor="start" fill="#2b2b2b" stroke="#2b2b2b" stroke-width="0.22">SOC 25%</text>
<line x1="57.00" y1="251.95" x2="77.00" y2="251.95" stroke="#c43a48" stroke-width="1.8"/>
<text transform="translate(78.90,255.15) scale(1,1.09)" font-size="8.4" text-anchor="start" fill="#2b2b2b" stroke="#2b2b2b" stroke-width="0.22">SOC 50%</text>
<line x1="57.00" y1="263.00" x2="77.00" y2="263.00" stroke="#94bb2a" stroke-width="1.8"/>
<text transform="translate(78.90,266.20) scale(1,1.09)" font-size="8.4" text-anchor="start" fill="#2b2b2b" stroke="#2b2b2b" stroke-width="0.22">SOC 75%</text>
<text transform="translate(160.20,429.00) scale(1,1.06)" font-size="10.8" text-anchor="middle" fill="#2b2b2b" stroke="#2b2b2b" stroke-width="0.22" word-spacing="-0.8">Dimensionless radius r/R</text>
<text transform="translate(20.80,314.85) rotate(-90)" font-size="10.8" word-spacing="-1.2" text-anchor="middle" fill="#2b2b2b" stroke="#2b2b2b" stroke-width="0.2">Hoop stress<tspan font-style="italic" font-size="9" dx="2.6">σ</tspan><tspan font-size="7.5" dy="5.9" dx="0.6">c</tspan><tspan dy="-5.9" dx="2"> [MPa]</tspan></text>
<text x="142.50" y="441.70" font-size="12.6" text-anchor="middle" fill="#1c1c1c" stroke="#1c1c1c" stroke-width="0.2" font-family="'Liberation Serif', serif">(c)</text></g>
<g><line x1="337.93" y1="230.00" x2="337.93" y2="399.50" stroke="#e5e5e5" stroke-width="0.8"/>
<line x1="360.26" y1="230.00" x2="360.26" y2="399.50" stroke="#e5e5e5" stroke-width="0.8"/>
<line x1="382.59" y1="230.00" x2="382.59" y2="399.50" stroke="#e5e5e5" stroke-width="0.8"/>
<line x1="404.92" y1="230.00" x2="404.92" y2="399.50" stroke="#e5e5e5" stroke-width="0.8"/>
<line x1="427.25" y1="230.00" x2="427.25" y2="399.50" stroke="#e5e5e5" stroke-width="0.8"/>
<line x1="449.58" y1="230.00" x2="449.58" y2="399.50" stroke="#e5e5e5" stroke-width="0.8"/>
<line x1="471.91" y1="230.00" x2="471.91" y2="399.50" stroke="#e5e5e5" stroke-width="0.8"/>
<line x1="494.24" y1="230.00" x2="494.24" y2="399.50" stroke="#e5e5e5" stroke-width="0.8"/>
<line x1="516.57" y1="230.00" x2="516.57" y2="399.50" stroke="#e5e5e5" stroke-width="0.8"/>
<line x1="315.60" y1="378.31" x2="538.90" y2="378.31" stroke="#e5e5e5" stroke-width="0.8"/>
<line x1="315.60" y1="357.12" x2="538.90" y2="357.12" stroke="#e5e5e5" stroke-width="0.8"/>
<line x1="315.60" y1="335.94" x2="538.90" y2="335.94" stroke="#e5e5e5" stroke-width="0.8"/>
<line x1="315.60" y1="314.75" x2="538.90" y2="314.75" stroke="#e5e5e5" stroke-width="0.8"/>
<line x1="315.60" y1="293.56" x2="538.90" y2="293.56" stroke="#e5e5e5" stroke-width="0.8"/>
<line x1="315.60" y1="272.38" x2="538.90" y2="272.38" stroke="#e5e5e5" stroke-width="0.8"/>
<line x1="315.60" y1="251.19" x2="538.90" y2="251.19" stroke="#e5e5e5" stroke-width="0.8"/>
<polyline points="315.6,399.5 319.3,399.5 323.0,399.4 326.8,399.2 330.5,399.0 334.2,398.7 337.9,398.4 341.7,398.0 345.4,397.5 349.1,396.9 352.8,396.3 356.5,395.5 360.3,394.7 364.0,393.9 367.7,392.9 371.4,391.9 375.1,390.8 378.9,389.7 382.6,388.4 386.3,387.1 390.0,385.7 393.8,384.2 397.5,382.6 401.2,381.0 404.9,379.3 408.6,377.5 412.4,375.6 416.1,373.6 419.8,371.6 423.5,369.5 427.2,367.3 431.0,365.0 434.7,362.6 438.4,360.1 442.1,357.6 445.9,355.0 449.6,352.3 453.3,349.5 457.0,346.7 460.7,343.7 464.5,340.7 468.2,337.6 471.9,334.4 475.6,331.1 479.4,327.7 483.1,324.3 486.8,320.7 490.5,317.1 494.2,313.4 498.0,309.6 501.7,305.7 505.4,301.8 509.1,297.7 512.8,293.6 516.6,289.4 520.3,285.1 524.0,280.7 527.7,276.2 531.5,271.6 535.2,267.0 538.9,262.2" fill="none" stroke="#3a3ea6" stroke-width="1.6" stroke-linejoin="round"/>
<polyline points="315.6,399.5 319.3,399.5 323.0,399.4 326.8,399.3 330.5,399.1 334.2,398.8 337.9,398.5 341.7,398.1 345.4,397.6 349.1,397.1 352.8,396.6 356.5,395.9 360.3,395.2 364.0,394.5 367.7,393.6 371.4,392.7 375.1,391.8 378.9,390.7 382.6,389.6 386.3,388.5 390.0,387.2 393.8,385.9 397.5,384.6 401.2,383.2 404.9,381.7 408.6,380.1 412.4,378.5 416.1,376.8 419.8,375.0 423.5,373.1 427.2,371.2 431.0,369.3 434.7,367.2 438.4,365.1 442.1,362.9 445.9,360.7 449.6,358.4 453.3,356.0 457.0,353.5 460.7,351.0 464.5,348.4 468.2,345.7 471.9,343.0 475.6,340.2 479.4,337.3 483.1,334.3 486.8,331.3 490.5,328.2 494.2,325.1 498.0,321.9 501.7,318.6 505.4,315.2 509.1,311.7 512.8,308.2 516.6,304.6 520.3,301.0 524.0,297.3 527.7,293.5 531.5,289.6 535.2,285.7 538.9,281.7" fill="none" stroke="#c43a48" stroke-width="1.6" stroke-linejoin="round"/>
<polyline points="315.6,399.5 319.3,399.5 323.0,399.4 326.8,399.3 330.5,399.1 334.2,398.9 337.9,398.6 341.7,398.2 345.4,397.8 349.1,397.4 352.8,396.8 356.5,396.3 360.3,395.6 364.0,395.0 367.7,394.2 371.4,393.4 375.1,392.6 378.9,391.6 382.6,390.7 386.3,389.6 390.0,388.6 393.8,387.4 397.5,386.2 401.2,385.0 404.9,383.6 408.6,382.3 412.4,380.8 416.1,379.3 419.8,377.8 423.5,376.2 427.2,374.5 431.0,372.8 434.7,371.0 438.4,369.1 442.1,367.2 445.9,365.2 449.6,363.2 453.3,361.1 457.0,359.0 460.7,356.8 464.5,354.5 468.2,352.2 471.9,349.8 475.6,347.4 479.4,344.9 483.1,342.3 486.8,339.7 490.5,337.0 494.2,334.2 498.0,331.4 501.7,328.6 505.4,325.7 509.1,322.7 512.8,319.6 516.6,316.5 520.3,313.4 524.0,310.1 527.7,306.9 531.5,303.5 535.2,300.1 538.9,296.6" fill="none" stroke="#94bb2a" stroke-width="1.6" stroke-linejoin="round"/>
<polyline points="315.6,399.5 319.3,399.5 323.0,399.3 326.8,399.1 330.5,398.8 334.2,398.4 337.9,397.9 341.7,397.3 345.4,396.6 349.1,395.9 352.8,395.0 356.5,394.1 360.3,393.1 364.0,391.9 367.7,390.7 371.4,389.4 375.1,388.0 378.9,386.6 382.6,385.0 386.3,383.4 390.0,381.6 393.8,379.8 397.5,377.9 401.2,375.8 404.9,373.7 408.6,371.5 412.4,369.3 416.1,366.9 419.8,364.4 423.5,361.9 427.2,359.2 431.0,356.5 434.7,353.7 438.4,350.8 442.1,347.8 445.9,344.7 449.6,341.5 453.3,338.3 457.0,334.9 460.7,331.5 464.5,327.9 468.2,324.3 471.9,320.6 475.6,316.8 479.4,312.9 483.1,308.9 486.8,304.9 490.5,300.7 494.2,296.4 498.0,292.1 501.7,287.7 505.4,283.2 509.1,278.6 512.8,273.9 516.6,269.1 520.3,264.2 524.0,259.2 527.7,254.2 531.5,249.0 535.2,243.8 538.9,238.5" fill="none" stroke="#8cab2a" stroke-width="1.6" stroke-dasharray="4.4 3.9" stroke-linejoin="round"/>
<line x1="315.60" y1="399.50" x2="315.60" y2="397.20" stroke="#646464" stroke-width="0.8"/>
<line x1="315.60" y1="230.00" x2="315.60" y2="232.30" stroke="#646464" stroke-width="0.8"/>
<text transform="translate(315.20,412.60) scale(1,1.08)" font-size="9.3" text-anchor="middle" fill="#2b2b2b" stroke="#2b2b2b" stroke-width="0.22">0</text>
<line x1="337.93" y1="399.50" x2="337.93" y2="397.20" stroke="#646464" stroke-width="0.8"/>
<line x1="337.93" y1="230.00" x2="337.93" y2="232.30" stroke="#646464" stroke-width="0.8"/>
<text transform="translate(337.53,412.60) scale(1,1.08)" font-size="9.3" text-anchor="middle" fill="#2b2b2b" stroke="#2b2b2b" stroke-width="0.22">0.1</text>
<line x1="360.26" y1="399.50" x2="360.26" y2="397.20" stroke="#646464" stroke-width="0.8"/>
<line x1="360.26" y1="230.00" x2="360.26" y2="232.30" stroke="#646464" stroke-width="0.8"/>
<text transform="translate(359.86,412.60) scale(1,1.08)" font-size="9.3" text-anchor="middle" fill="#2b2b2b" stroke="#2b2b2b" stroke-width="0.22">0.2</text>
<line x1="382.59" y1="399.50" x2="382.59" y2="397.20" stroke="#646464" stroke-width="0.8"/>
<line x1="382.59" y1="230.00" x2="382.59" y2="232.30" stroke="#646464" stroke-width="0.8"/>
<text transform="translate(382.19,412.60) scale(1,1.08)" font-size="9.3" text-anchor="middle" fill="#2b2b2b" stroke="#2b2b2b" stroke-width="0.22">0.3</text>
<line x1="404.92" y1="399.50" x2="404.92" y2="397.20" stroke="#646464" stroke-width="0.8"/>
<line x1="404.92" y1="230.00" x2="404.92" y2="232.30" stroke="#646464" stroke-width="0.8"/>
<text transform="translate(404.52,412.60) scale(1,1.08)" font-size="9.3" text-anchor="middle" fill="#2b2b2b" stroke="#2b2b2b" stroke-width="0.22">0.4</text>
<line x1="427.25" y1="399.50" x2="427.25" y2="397.20" stroke="#646464" stroke-width="0.8"/>
<line x1="427.25" y1="230.00" x2="427.25" y2="232.30" stroke="#646464" stroke-width="0.8"/>
<text transform="translate(426.85,412.60) scale(1,1.08)" font-size="9.3" text-anchor="middle" fill="#2b2b2b" stroke="#2b2b2b" stroke-width="0.22">0.5</text>
<line x1="449.58" y1="399.50" x2="449.58" y2="397.20" stroke="#646464" stroke-width="0.8"/>
<line x1="449.58" y1="230.00" x2="449.58" y2="232.30" stroke="#646464" stroke-width="0.8"/>
<text transform="translate(449.18,412.60) scale(1,1.08)" font-size="9.3" text-anchor="middle" fill="#2b2b2b" stroke="#2b2b2b" stroke-width="0.22">0.6</text>
<line x1="471.91" y1="399.50" x2="471.91" y2="397.20" stroke="#646464" stroke-width="0.8"/>
<line x1="471.91" y1="230.00" x2="471.91" y2="232.30" stroke="#646464" stroke-width="0.8"/>
<text transform="translate(471.51,412.60) scale(1,1.08)" font-size="9.3" text-anchor="middle" fill="#2b2b2b" stroke="#2b2b2b" stroke-width="0.22">0.7</text>
<line x1="494.24" y1="399.50" x2="494.24" y2="397.20" stroke="#646464" stroke-width="0.8"/>
<line x1="494.24" y1="230.00" x2="494.24" y2="232.30" stroke="#646464" stroke-width="0.8"/>
<text transform="translate(493.84,412.60) scale(1,1.08)" font-size="9.3" text-anchor="middle" fill="#2b2b2b" stroke="#2b2b2b" stroke-width="0.22">0.8</text>
<line x1="516.57" y1="399.50" x2="516.57" y2="397.20" stroke="#646464" stroke-width="0.8"/>
<line x1="516.57" y1="230.00" x2="516.57" y2="232.30" stroke="#646464" stroke-width="0.8"/>
<text transform="translate(516.17,412.60) scale(1,1.08)" font-size="9.3" text-anchor="middle" fill="#2b2b2b" stroke="#2b2b2b" stroke-width="0.22">0.9</text>
<line x1="538.90" y1="399.50" x2="538.90" y2="397.20" stroke="#646464" stroke-width="0.8"/>
<line x1="538.90" y1="230.00" x2="538.90" y2="232.30" stroke="#646464" stroke-width="0.8"/>
<text transform="translate(538.50,412.60) scale(1,1.08)" font-size="9.3" text-anchor="middle" fill="#2b2b2b" stroke="#2b2b2b" stroke-width="0.22">1</text>
<line x1="315.60" y1="399.50" x2="317.90" y2="399.50" stroke="#646464" stroke-width="0.8"/>
<line x1="538.90" y1="399.50" x2="536.60" y2="399.50" stroke="#646464" stroke-width="0.8"/>
<text transform="translate(311.70,403.35) scale(1,1.08)" font-size="9.3" text-anchor="end" fill="#2b2b2b" stroke="#2b2b2b" stroke-width="0.22">0</text>
<line x1="315.60" y1="378.31" x2="317.90" y2="378.31" stroke="#646464" stroke-width="0.8"/>
<line x1="538.90" y1="378.31" x2="536.60" y2="378.31" stroke="#646464" stroke-width="0.8"/>
<text transform="translate(311.70,382.16) scale(1,1.08)" font-size="9.3" text-anchor="end" fill="#2b2b2b" stroke="#2b2b2b" stroke-width="0.22">5</text>
<line x1="315.60" y1="357.12" x2="317.90" y2="357.12" stroke="#646464" stroke-width="0.8"/>
<line x1="538.90" y1="357.12" x2="536.60" y2="357.12" stroke="#646464" stroke-width="0.8"/>
<text transform="translate(311.70,360.98) scale(1,1.08)" font-size="9.3" text-anchor="end" fill="#2b2b2b" stroke="#2b2b2b" stroke-width="0.22">10</text>
<line x1="315.60" y1="335.94" x2="317.90" y2="335.94" stroke="#646464" stroke-width="0.8"/>
<line x1="538.90" y1="335.94" x2="536.60" y2="335.94" stroke="#646464" stroke-width="0.8"/>
<text transform="translate(311.70,339.79) scale(1,1.08)" font-size="9.3" text-anchor="end" fill="#2b2b2b" stroke="#2b2b2b" stroke-width="0.22">15</text>
<line x1="315.60" y1="314.75" x2="317.90" y2="314.75" stroke="#646464" stroke-width="0.8"/>
<line x1="538.90" y1="314.75" x2="536.60" y2="314.75" stroke="#646464" stroke-width="0.8"/>
<text transform="translate(311.70,318.60) scale(1,1.08)" font-size="9.3" text-anchor="end" fill="#2b2b2b" stroke="#2b2b2b" stroke-width="0.22">20</text>
<line x1="315.60" y1="293.56" x2="317.90" y2="293.56" stroke="#646464" stroke-width="0.8"/>
<line x1="538.90" y1="293.56" x2="536.60" y2="293.56" stroke="#646464" stroke-width="0.8"/>
<text transform="translate(311.70,297.41) scale(1,1.08)" font-size="9.3" text-anchor="end" fill="#2b2b2b" stroke="#2b2b2b" stroke-width="0.22">25</text>
<line x1="315.60" y1="272.38" x2="317.90" y2="272.38" stroke="#646464" stroke-width="0.8"/>
<line x1="538.90" y1="272.38" x2="536.60" y2="272.38" stroke="#646464" stroke-width="0.8"/>
<text transform="translate(311.70,276.23) scale(1,1.08)" font-size="9.3" text-anchor="end" fill="#2b2b2b" stroke="#2b2b2b" stroke-width="0.22">30</text>
<line x1="315.60" y1="251.19" x2="317.90" y2="251.19" stroke="#646464" stroke-width="0.8"/>
<line x1="538.90" y1="251.19" x2="536.60" y2="251.19" stroke="#646464" stroke-width="0.8"/>
<text transform="translate(311.70,255.04) scale(1,1.08)" font-size="9.3" text-anchor="end" fill="#2b2b2b" stroke="#2b2b2b" stroke-width="0.22">35</text>
<line x1="315.60" y1="230.00" x2="317.90" y2="230.00" stroke="#646464" stroke-width="0.8"/>
<line x1="538.90" y1="230.00" x2="536.60" y2="230.00" stroke="#646464" stroke-width="0.8"/>
<text transform="translate(311.70,233.85) scale(1,1.08)" font-size="9.3" text-anchor="end" fill="#2b2b2b" stroke="#2b2b2b" stroke-width="0.22">40</text>
<rect x="315.60" y="230.00" width="223.30" height="169.50" fill="none" stroke="#646464" stroke-width="1"/>
<rect x="321.50" y="235.40" width="66.00" height="35.20" fill="#fff" stroke="#6c6c6c" stroke-width="0.9"/>
<line x1="324.30" y1="242.30" x2="344.30" y2="242.30" stroke="#3a3ea6" stroke-width="1.8"/>
<text transform="translate(346.20,245.50) scale(1,1.09)" font-size="8.4" text-anchor="start" fill="#2b2b2b" stroke="#2b2b2b" stroke-width="0.22">SOC 25%</text>
<line x1="324.30" y1="253.35" x2="344.30" y2="253.35" stroke="#c43a48" stroke-width="1.8"/>
<text transform="translate(346.20,256.55) scale(1,1.09)" font-size="8.4" text-anchor="start" fill="#2b2b2b" stroke="#2b2b2b" stroke-width="0.22">SOC 50%</text>
<line x1="324.30" y1="264.40" x2="344.30" y2="264.40" stroke="#94bb2a" stroke-width="1.8"/>
<text transform="translate(346.20,267.60) scale(1,1.09)" font-size="8.4" text-anchor="start" fill="#2b2b2b" stroke="#2b2b2b" stroke-width="0.22">SOC 75%</text>
<text transform="translate(427.25,427.50) scale(1,1.06)" font-size="10.8" text-anchor="middle" fill="#2b2b2b" stroke="#2b2b2b" stroke-width="0.22" word-spacing="-0.8">Dimensionless radius r/R</text>
<text transform="translate(297.20,315.75) rotate(-90)" font-size="11.0" word-spacing="-1.0" text-anchor="middle" fill="#2b2b2b" stroke="#2b2b2b" stroke-width="0.2">Von Mises stress [MPa]</text>
<text x="415.10" y="442.00" font-size="12.6" text-anchor="middle" fill="#1c1c1c" stroke="#1c1c1c" stroke-width="0.2" font-family="'Liberation Serif', serif">(d)</text></g>
</svg>
</body></html>
